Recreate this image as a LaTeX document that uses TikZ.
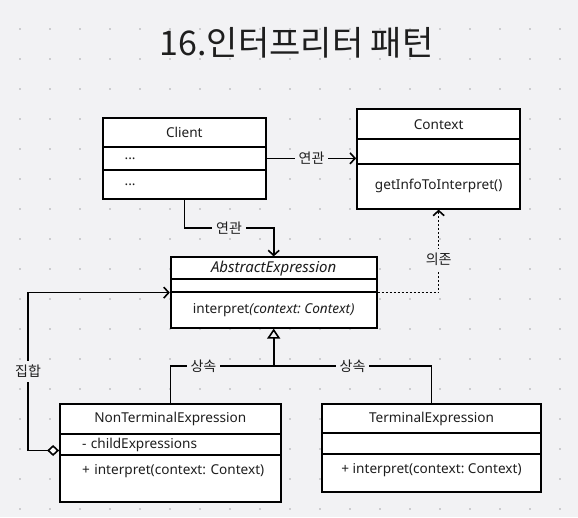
\documentclass[tikz,border=0pt]{standalone}
\usepackage{fontspec}
\setmainfont{Noto Sans}
\newfontfamily\krfont{Noto Sans CJK KR}
\usetikzlibrary{arrows.meta}
\definecolor{bgc}{RGB}{242,242,244}
\definecolor{dotc}{RGB}{205,205,208}
\definecolor{txtc}{RGB}{30,30,30}
\newcommand{\umlpart}[4][]{\node[part,#1] at (#2) (#3) {#4}}
\frenchspacing

\begin{document}
\begin{tikzpicture}[x=1pt,y=-1pt,
	part/.style={draw,fill=white,line width=1.8pt,inner ysep=1pt,text=txtc,font=\fontsize{13.6}{16}\selectfont},
	lefttext/.style={text width=#1,align=left,inner xsep=22pt},
	lbl/.style={fill=bgc,inner sep=4pt,text=txtc,font=\krfont\fontsize{14}{16}\selectfont},
	conn/.style={line width=1.6pt},
	>={Straight Barb[length=5pt,width=11pt]}]
				\fill[bgc] (0,0) rectangle (578,517);
				\useasboundingbox (0,0) rectangle (578,517);
				\foreach \i in {0,...,18}
					\foreach \j in {0,...,16}
						\fill[dotc] ({19+30*\i},{28+30*\j}) rectangle ++(2,2);

				\node[text=txtc,font=\krfont\fontsize{34}{40}\selectfont] at (296.6,43) (title) {16.인터프리터 패턴};

				\umlpart[minimum width=163.3pt,minimum height=28.4pt]{184.35,132.5}{client-name}{Client};
				\umlpart[minimum height=23.3pt,lefttext=119.3pt]{184.35,158.35}{client-attr}{...};
				\umlpart[minimum height=29.3pt,lefttext=119.3pt]{184.35,184.65}{client-op}{...};

				\umlpart[minimum width=163.3pt,minimum height=29.7pt]{438.65,124.15}{ctx-name}{Context};
				\umlpart[minimum width=163.3pt,minimum height=24.7pt]{438.65,151.35}{ctx-attr}{};
				\umlpart[minimum width=163.3pt,minimum height=45pt]{438.65,186.2}{ctx-op}{getInfoToInterpret()};

				\umlpart[minimum width=206pt,minimum height=21.7pt,font=\fontsize{15}{17}\selectfont\itshape]{273.7,268.15}{abs-name}{AbstractExpression};
				\umlpart[minimum width=206pt,minimum height=12.7pt]{273.7,285.35}{abs-attr}{};
				\umlpart[minimum width=206pt,minimum height=36pt]{273.7,309.7}{abs-op}{interpret\textit{(context: Context)}};

				\umlpart[minimum width=220.7pt,minimum height=29.7pt]{170.35,419.15}{nt-name}{NonTerminalExpression};
				\umlpart[minimum height=21pt,lefttext=176.7pt]{170.35,444.5}{nt-attr}{- childExpressions};
				\umlpart[minimum height=46.7pt,lefttext=176.7pt,text depth=17pt]{170.35,478.35}{nt-op}{\mbox{+ interpret(context: Context)}};

				\umlpart[minimum width=219.6pt,minimum height=29.6pt]{431.5,418.5}{te-name}{TerminalExpression};
				\umlpart[minimum width=219.6pt,minimum height=20.4pt]{431.5,443.5}{te-attr}{};
				\umlpart[minimum width=219.6pt,minimum height=38pt,text depth=8pt]{431.5,472.7}{te-op}{+ interpret(context: Context)};

				\draw[conn,->] (client-attr.east) -- node[lbl] {연관} (ctx-attr.west |- client-attr.east);
				\draw[conn,->] (client-op.south) -- ++(0,27.5) -| node[lbl,pos=0.25] {연관} (abs-name.north);
				\draw[conn,dash pattern=on 2pt off 2pt,->] (abs-attr.south east) -| node[lbl,pos=0.7] {의존} (ctx-op.south);
				\draw[conn,{Diamond[fill=white,length=12pt,width=11pt]}->] ([yshift=-6pt]nt-attr.west) -- ++(-31,0) |- node[lbl,pos=0.25] {집합} (abs-attr.south west);

				\coordinate (inh-join) at ([yshift=-37.5pt]abs-op.south);
				\draw[conn,-{Triangle[open,length=10pt,width=13pt]}] (inh-join) -- (abs-op.south);
				\draw[conn] (nt-name.north) |- node[lbl,pos=0.66] {상속} (inh-join);
				\draw[conn] (te-name.north) |- node[lbl,pos=0.75] {상속} (inh-join);
\end{tikzpicture}
\end{document}
